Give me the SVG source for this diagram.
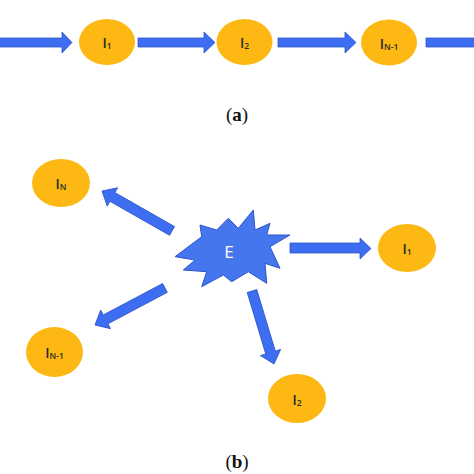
<svg xmlns="http://www.w3.org/2000/svg" width="474" height="474" viewBox="0 0 474 474">
<style>
.node{fill:#FDB813;}
.arr{fill:#3D6DF0;stroke:#2C55CC;stroke-width:0.8;}
.lbl{font-family:"Open Sans","Liberation Sans",sans-serif;font-size:14px;font-weight:600;fill:#2a2a2a;text-anchor:middle;}
.sub{font-size:8.5px;}
.cap{font-family:"Liberation Serif",serif;font-size:19px;fill:#111;text-anchor:middle;}
</style>
<rect width="474" height="474" fill="#ffffff"/>
<g id="connectors">
  <polygon class="arr" points="-2,38 62,38 62,32 72,42.5 62,53 62,47 -2,47"/>
  <polygon class="arr" points="138,38 204,38 204,32 215,42.5 204,53 204,47 138,47"/>
  <polygon class="arr" points="278,38 345,38 345,32 356,42.5 345,53 345,47 278,47"/>
  <polygon class="arr" points="426,38 476,38 476,47 426,47"/>
  <polygon class="arr" points="290,243 360,243 360,238 371,248.5 360,259 360,253 290,253"/>
  <polygon class="arr" transform="translate(102,191) rotate(-150.3)" points="-80.6,-5 -12,-5 -12,-10.5 0,0 -12,10.5 -12,5 -80.6,5"/>
  <polygon class="arr" transform="translate(95,325) rotate(152.1)" points="-79.2,-5 -12,-5 -12,-10.5 0,0 -12,10.5 -12,5 -79.2,5"/>
  <polygon class="arr" transform="translate(274,364) rotate(73.2)" points="-76.2,-5 -12,-5 -12,-10.5 0,0 -12,10.5 -12,5 -76.2,5"/>
</g>
<g id="a-I1"><ellipse class="node" cx="107" cy="42" rx="28" ry="23"/><text class="lbl" x="107" y="48">I<tspan class="sub" dy="1">1</tspan></text></g>
<g id="a-I2"><ellipse class="node" cx="244.5" cy="42" rx="28" ry="23"/><text class="lbl" x="244.5" y="48">I<tspan class="sub" dy="1">2</tspan></text></g>
<g id="a-IN-1"><ellipse class="node" cx="389" cy="42.5" rx="28" ry="23"/><text class="lbl" x="389" y="48.5">I<tspan class="sub" dy="1">N-1</tspan></text></g>
<text class="cap" x="237" y="121">(<tspan font-weight="bold">a</tspan>)</text>
<g id="E"><path d="M175,256.7 L201.7,236.7 L200,225 L216.7,230 L228.3,218.3 L238.3,228.3 L253.3,210 L255,230 L270,223.3 L266.7,235 L290,235 L270,246.7 L280,268.3 L265,263.3 L266.7,283.3 L248.3,271.7 L231.7,281.7 L223.3,275 L201.7,286.7 L206.7,271.7 L183.3,270 L195,260 Z" fill="#4676EE" stroke="#2C55CC" stroke-width="1"/><text x="229" y="258" font-family="'Open Sans','Liberation Sans',sans-serif" font-size="17" fill="#ffffff" text-anchor="middle">E</text></g>
<g id="b-IN"><ellipse class="node" cx="61" cy="183" rx="29" ry="24"/><text class="lbl" x="61" y="189">I<tspan class="sub" dy="1">N</tspan></text></g>
<g id="b-I1"><ellipse class="node" cx="407" cy="248" rx="29" ry="24"/><text class="lbl" x="407" y="254">I<tspan class="sub" dy="1">1</tspan></text></g>
<g id="b-IN-1"><ellipse class="node" cx="54.5" cy="352" rx="28.5" ry="25"/><text class="lbl" x="54.5" y="358">I<tspan class="sub" dy="1">N-1</tspan></text></g>
<g id="b-I2"><ellipse class="node" cx="297" cy="398.5" rx="29" ry="24.5"/><text class="lbl" x="297" y="404.5">I<tspan class="sub" dy="1">2</tspan></text></g>
<text class="cap" x="237" y="468">(<tspan font-weight="bold">b</tspan>)</text>
</svg>
